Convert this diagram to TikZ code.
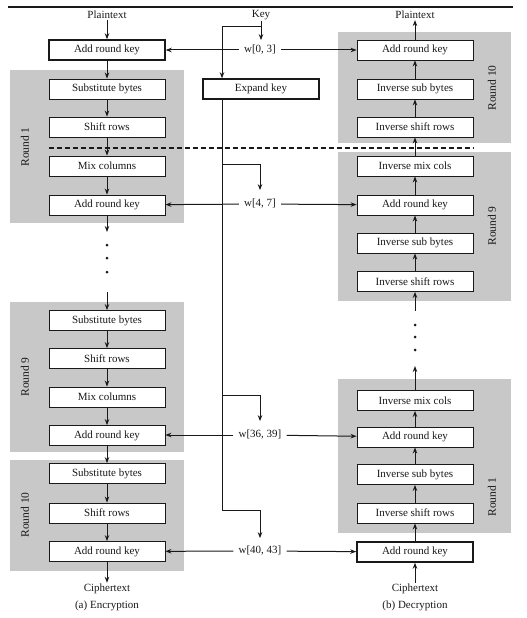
\documentclass[tikz,border=0pt]{standalone}
\usepackage{fontspec}
\setmainfont{Liberation Serif}
\usetikzlibrary{arrows.meta}
\definecolor{roundgray}{RGB}{200,200,200}
\definecolor{ink}{RGB}{25,25,25}
\begin{document}
\begin{tikzpicture}[x=1pt,y=-1pt,
  box/.style={draw=ink, fill=white, line width=0.8pt, minimum width=116pt, minimum height=20pt, inner sep=0pt, text=ink, font=\fontsize{11}{13}\selectfont},
  thickbox/.style={box, line width=1.5pt},
  rnd/.style={fill=roundgray},
  lbl/.style={text=ink, font=\fontsize{11}{13}\selectfont, inner sep=1pt},
  wl/.style={text=ink, font=\fontsize{11}{13}\selectfont, inner xsep=5pt, inner ysep=1pt},
  rlabel/.style={text=ink, rotate=90, font=\fontsize{11.5}{13}\selectfont},
  arr/.style={draw=ink, line width=1pt, -{Stealth[length=6pt,width=4.5pt]}},
  ln/.style={draw=ink, line width=1pt},
  dot/.style={fill=ink},
]
\useasboundingbox (0,0) rectangle (527,618);
\draw[ink, line width=1.5pt] (8,7) -- (513,7);

% ---------- backgrounds ----------
\fill[rnd] (10,70) rectangle (184,223);
\fill[rnd] (10,302) rectangle (184,452);
\fill[rnd] (10,460) rectangle (184,571);
\fill[rnd] (338,32) rectangle (511,143);
\fill[rnd] (338,152) rectangle (511,301);
\fill[rnd] (338,379) rectangle (511,533);

\node[rlabel] (rl1) at (25,147) {Round 1};
\node[rlabel] (rl9) at (25,377) {Round 9};
\node[rlabel] (rl10) at (25,515) {Round 10};
\node[rlabel] (rr10) at (492,88) {Round 10};
\node[rlabel] (rr9) at (492,226) {Round 9};
\node[rlabel] (rr1) at (492,497) {Round 1};

% ---------- encryption ----------
\node[lbl] (ptL) at (107,15) {Plaintext};
\node[thickbox] (ark0) at (107,50) {Add round key};
\node[box] (sb1) at (107,89) {Substitute bytes};
\node[box] (sr1) at (107,127) {Shift rows};
\node[box] (mc1) at (107,166) {Mix columns};
\node[box] (ark1) at (107,205) {Add round key};
\coordinate (eA) at (107,232);
\coordinate (eB) at (107,292);
\node[box] (sb9) at (107,320.5) {Substitute bytes};
\node[box] (sr9) at (107,358.5) {Shift rows};
\node[box] (mc9) at (107,397) {Mix columns};
\node[box] (ark9) at (107,435.5) {Add round key};
\node[box] (sb10) at (107,473.5) {Substitute bytes};
\node[box] (sr10) at (107,513) {Shift rows};
\node[box] (ark10) at (107,551.5) {Add round key};
\node[lbl] (ctL) at (107,589) {Ciphertext};
\node[lbl] (enc) at (107,606) {(a) Encryption};

\foreach \y in {245,258,272} \fill[dot] (107,\y) circle (1.5pt);

\draw[arr] (ptL) -- (ark0);
\draw[arr] (ark0) -- (sb1);
\draw[arr] (sb1) -- (sr1);
\draw[arr] (sr1) -- (mc1);
\draw[arr] (mc1) -- (ark1);
\draw[arr] (ark1) -- (eA);
\draw[arr] (eB) -- (sb9);
\draw[arr] (sb9) -- (sr9);
\draw[arr] (sr9) -- (mc9);
\draw[arr] (mc9) -- (ark9);
\draw[arr] (ark9) -- (sb10);
\draw[arr] (sb10) -- (sr10);
\draw[arr] (sr10) -- (ark10);
\draw[arr] (ark10) -- (ctL);

% ---------- decryption ----------
\node[lbl] (ptR) at (415,15) {Plaintext};
\node[box] (dark0) at (415,50) {Add round key};
\node[box] (isb10) at (415,89) {Inverse sub bytes};
\node[box] (isr10) at (415,127) {Inverse shift rows};
\node[box] (imc9) at (415,166) {Inverse mix cols};
\node[box] (dark9) at (415,205) {Add round key};
\node[box] (isb9) at (415,243) {Inverse sub bytes};
\node[box] (isr9) at (415,281.5) {Inverse shift rows};
\coordinate (dA) at (415,311);
\coordinate (dB) at (415,366);
\node[box] (imc1) at (415,400.5) {Inverse mix cols};
\node[box] (dark1) at (415,437) {Add round key};
\node[box] (isb1) at (415,474.5) {Inverse sub bytes};
\node[box] (isr1) at (415,513) {Inverse shift rows};
\node[thickbox] (dark10) at (415,552) {Add round key};
\node[lbl] (ctR) at (415,589) {Ciphertext};
\node[lbl] (dec) at (415,606) {(b) Decryption};

\foreach \y in {325,337,350} \fill[dot] (415,\y) circle (1.5pt);

\draw[arr] (ctR) -- (dark10);
\draw[arr] (dark10) -- (isr1);
\draw[arr] (isr1) -- (isb1);
\draw[arr] (isb1) -- (dark1);
\draw[arr] (dark1) -- (imc1);
\draw[arr] (imc1) -- (dB);
\draw[arr] (dA) -- (isr9);
\draw[arr] (isr9) -- (isb9);
\draw[arr] (isb9) -- (dark9);
\draw[arr] (dark9) -- (imc9);
\draw[arr] (imc9) -- (isr10);
\draw[arr] (isr10) -- (isb10);
\draw[arr] (isb10) -- (dark0);
\draw[arr] (dark0) -- (ptR);

% ---------- key schedule ----------
\node[lbl] (key) at (261,15) {Key};
\coordinate (kb) at (261,27);
\coordinate (kl) at (222,27);
\node[thickbox] (exp) at (261,89) {Expand key};
\node[wl] (w0) at (260,50) {w[0, 3]};
\node[wl] (w4) at (260,204) {w[4, 7]};
\node[wl] (w36) at (260,435) {w[36, 39]};
\node[wl] (w40) at (260,551) {w[40, 43]};
\coordinate (b4) at (222,164);
\coordinate (b36) at (222,395);
\coordinate (b40) at (222,510);

\draw[ln] (key.south) -- (kb);
\draw[arr, shorten >=4pt] (kb) -- (w0.north -| kb);
\draw[arr] (kb) -- (kl) -- (kl |- exp.north);
\draw[ln] (exp.south -| kl) -- (b40);
\draw[arr, shorten >=8pt] (b4) -- (b4 -| w4) -- (w4.north);
\draw[arr, shorten >=8pt] (b36) -- (b36 -| w36) -- (w36.north);
\draw[arr, shorten >=7pt] (b40) -- (b40 -| w40) -- (w40.north);

\draw[arr] (w0) -- (ark0);
\draw[arr] (w0) -- (dark0);
\draw[arr] (w4) -- (ark1);
\draw[arr] (w4) -- (dark9);
\draw[arr] (w36.west) -- (ark9.east |- w36.west);
\draw[arr] (w36) -- (dark1);
\draw[arr] (w40) -- (ark10);
\draw[arr] (w40) -- (dark10);

% ---------- round boundary ----------
\draw[ink, line width=1.2pt, dash pattern=on 5pt off 3pt] (sr1.south west |- 0,148) coordinate (dl) -- (isr10.south east |- 0,148) coordinate (dr);
\end{tikzpicture}
\end{document}
